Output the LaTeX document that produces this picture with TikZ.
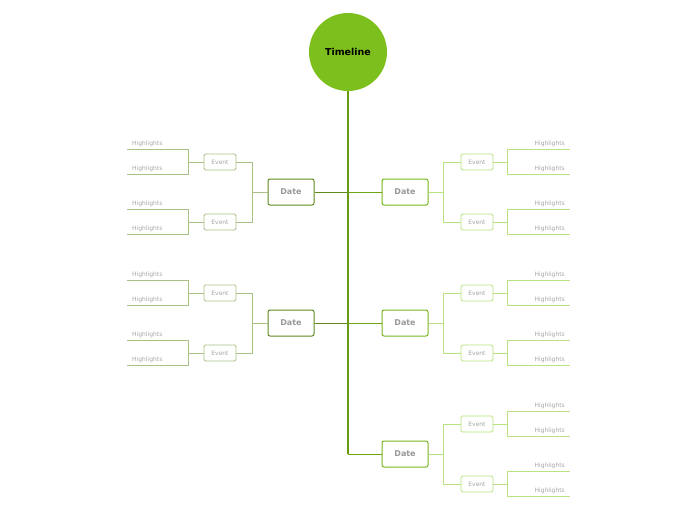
\documentclass[tikz,border=0pt]{standalone}
\usepackage{fontspec}
\setmainfont{DejaVu Sans}
\begin{document}
\begin{tikzpicture}[x=1pt,y=-1pt,
  datebox/.style={draw=#1,line width=1pt,rounded corners=2pt,minimum width=46pt,minimum height=26pt,fill=white,font=\bfseries\fontsize{8}{9}\selectfont,text=gray!80},
  eventbox/.style={draw=#1,line width=0.8pt,rounded corners=1.5pt,minimum width=32pt,minimum height=16pt,fill=white,font=\fontsize{6}{7}\selectfont,text=gray!70},
  hl/.style={font=\fontsize{6}{7}\selectfont,text=gray!70,inner sep=0pt}]
\definecolor{trunk}{HTML}{6A9C10}
\definecolor{ldark}{HTML}{5E8A1E}
\definecolor{llight}{HTML}{A9C187}
\definecolor{rdark}{HTML}{84C91E}
\definecolor{rlight}{HTML}{B9E37E}
\useasboundingbox (0,0) rectangle (696,520);
\node[circle,fill=rdark!95!black,minimum size=78pt,inner sep=0pt,font=\bfseries\fontsize{9.5}{11}\selectfont] (tl) at (348,52) {Timeline};
\coordinate (tend) at (348,454);
\draw[trunk,line width=1.2pt] (tl.south) -- (tend);
% left side
\foreach \y/\n in {192/a,323/b}{
  \node[datebox=ldark] (L\n) at (291,\y) {Date};
  \draw[ldark,line width=1pt] (L\n.east) -- (348,\y);
  \foreach \d/\m in {-30/1,30/2}{
    \node[eventbox=llight] (L\n\m) at (220,\y+\d) {Event};
    \draw[llight,line width=0.8pt] (L\n.west) -- ++(-15,0) |- (L\n\m.east);
    \foreach \e/\k in {-12.5/1,12.5/2}{
      \coordinate (L\n\m\k) at (127,\y+\d+\e);
      \draw[llight,line width=0.8pt] (L\n\m.west) -- ++(-15,0) |- (L\n\m\k);
      \node[hl,anchor=south west] at ([xshift=5pt,yshift=2.5pt]L\n\m\k) {Highlights};
    }
  }
}
% right side
\foreach \y/\n in {192/a,323/b,454/c}{
  \node[datebox=rdark!90!black] (R\n) at (405,\y) {Date};
  \draw[trunk!80!rdark,line width=1pt] (348,\y) -- (R\n.west);
  \foreach \d/\m in {-30/1,30/2}{
    \node[eventbox=rlight] (R\n\m) at (477,\y+\d) {Event};
    \draw[rlight,line width=0.8pt] (R\n.east) -- ++(15,0) |- (R\n\m.west);
    \foreach \e/\k in {-12.5/1,12.5/2}{
      \coordinate (R\n\m\k) at (570,\y+\d+\e);
      \draw[rlight,line width=0.8pt] (R\n\m.east) -- ++(14,0) |- (R\n\m\k);
      \node[hl,anchor=south east] at ([xshift=-5pt,yshift=2.5pt]R\n\m\k) {Highlights};
    }
  }
}
\end{tikzpicture}
\end{document}
